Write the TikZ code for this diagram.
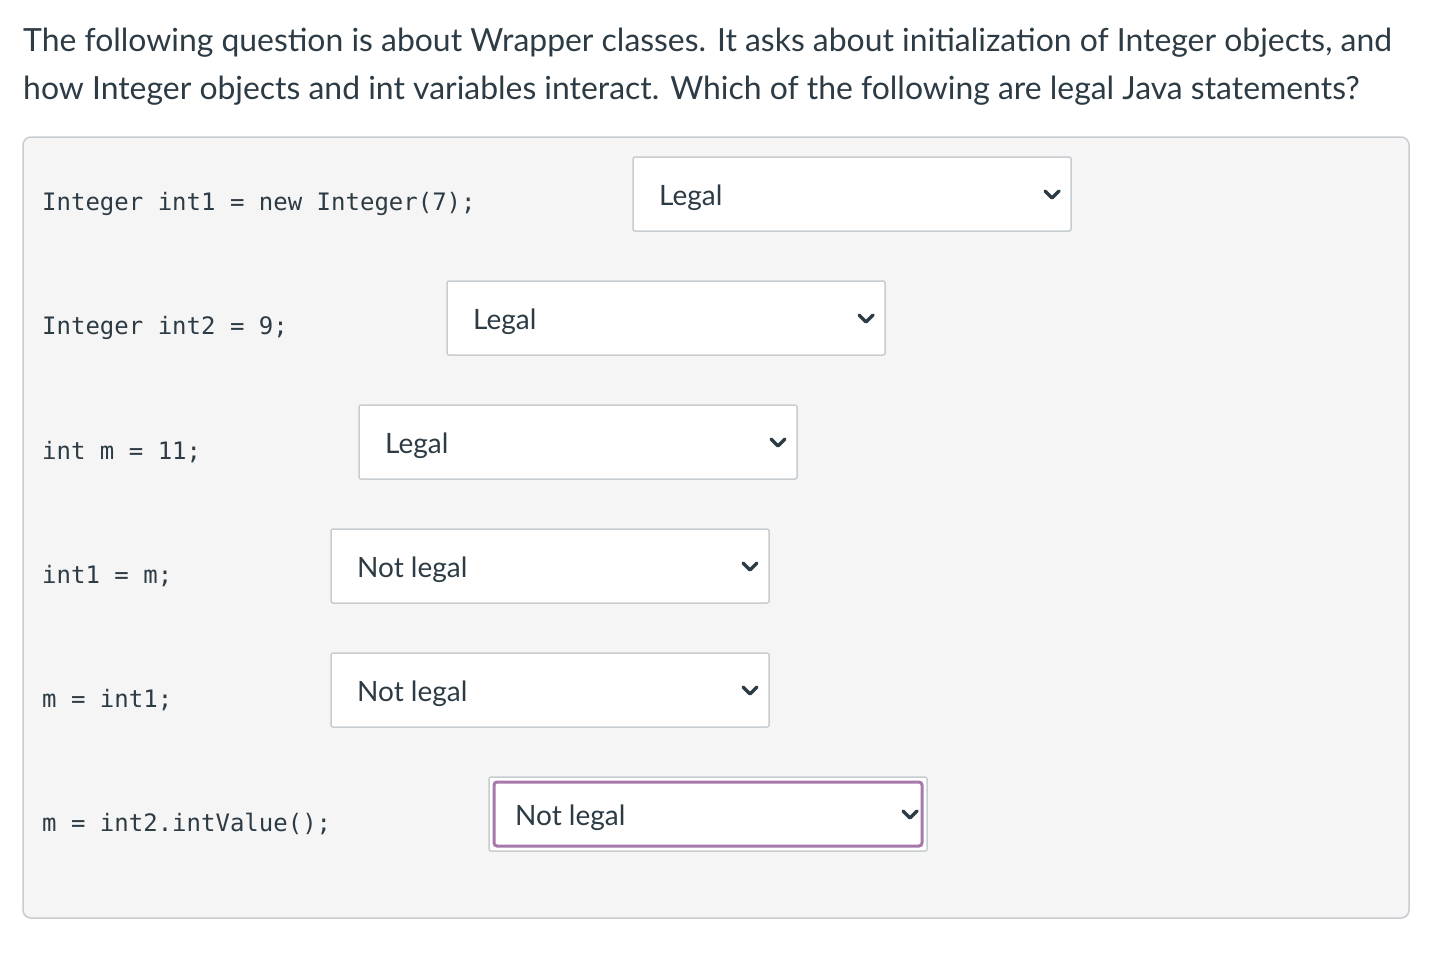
\documentclass[tikz,border=0pt]{standalone}
\usepackage{fontspec}
\setmainfont{Lato}
\setmonofont{DejaVu Sans Mono}
\definecolor{txt}{HTML}{2D3B45}
\definecolor{panel}{HTML}{F5F5F5}
\definecolor{pborder}{HTML}{C7CDD1}
\definecolor{sborder}{HTML}{C7CDD1}
\definecolor{focus}{HTML}{A678AC}
\begin{document}
\begin{tikzpicture}[x=1pt,y=-1pt,
  code/.style={anchor=west,inner sep=0,font=\fontsize{24}{28}\selectfont\ttfamily,text=txt},
  seltext/.style={anchor=west,inner sep=0,font=\fontsize{28}{32}\selectfont,text=txt},
  selbox/.style={draw=sborder,line width=1.5pt,fill=white,rounded corners=2pt},
  chev/.style={draw=txt,line width=3.5pt,line cap=round,line join=round}]
\useasboundingbox (0,0) rectangle (1434,958);
\fill[white] (0,0) rectangle (1434,958);
\node[anchor=west,inner sep=0,font=\fontsize{31.9}{36}\selectfont,text=txt] (q1) at (23,43) {The following question is about Wrapper classes. It asks about initialization of Integer objects, and};
\node[anchor=west,inner sep=0,font=\fontsize{31.9}{36}\selectfont,text=txt] (q2) at (23,91) {how Integer objects and int variables interact. Which of the following are legal Java statements?};
\draw[draw=pborder,line width=1.5pt,fill=panel,rounded corners=8pt] (23,137) rectangle (1409,918);
\newcommand{\selbox}[5]{%
  \draw[selbox] (#1,#2) rectangle (#3,#2+74);
  \node[seltext] (#5) at (#1+26,#2+41) {#4};
  \draw[chev] (#3-26,#2+34) -- (#3-19,#2+41) -- (#3-12,#2+34);
}
\node[code] (c1) at (42,204) {Integer int1 = new Integer(7);};
\node[code] (c2) at (42,328) {Integer int2 = 9;};
\node[code] (c3) at (42,452) {int m = 11;};
\node[code] (c4) at (42,576) {int1 = m;};
\node[code] (c5) at (42,700) {m = int1;};
\node[code] (c6) at (42,824) {m = int2.intValue();};
\selbox{633}{157}{1071}{Legal}{s1}
\selbox{447}{281}{885}{Legal}{s2}
\selbox{359}{405}{797}{Legal}{s3}
\selbox{331}{529}{769}{Not legal}{s4}
\selbox{331}{653}{769}{Not legal}{s5}
\draw[selbox] (489,777) rectangle (927,851);
\draw[draw=focus,line width=3pt,fill=white,rounded corners=3pt] (494,782) rectangle (922,846);
\node[seltext] (s6) at (515,818) {Not legal};
\draw[chev] (903,811) -- (910,818) -- (917,811);
\end{tikzpicture}
\end{document}
